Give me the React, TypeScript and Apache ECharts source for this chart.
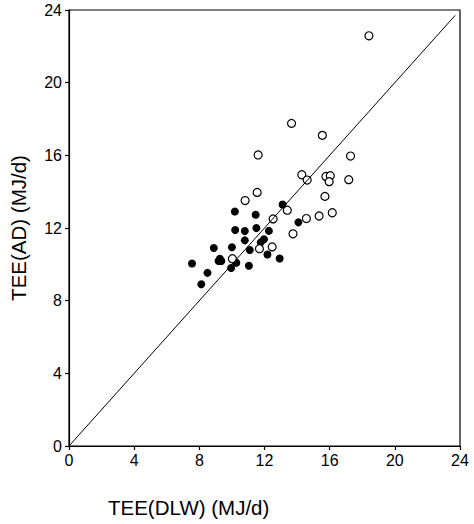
import { useEffect, useRef } from 'react';
import * as echarts from 'echarts';

// TEE by doubly labelled water (x) vs TEE by activity diary (y), MJ/d
const openPoints: [number, number][] = [
  [18.41, 22.58], [13.66, 17.76], [15.55, 17.1], [17.28, 15.96], [11.61, 16.02],
  [14.29, 14.93], [14.62, 14.64], [15.77, 14.84], [16.04, 14.88], [15.97, 14.55],
  [17.17, 14.66], [15.71, 13.74], [11.55, 13.96], [10.81, 13.51], [13.4, 12.98],
  [14.57, 12.52], [15.35, 12.66], [16.16, 12.84], [12.53, 12.5], [13.75, 11.68],
  [11.69, 10.86], [12.47, 10.96], [10.03, 10.31],
];

const filledPoints: [number, number][] = [
  [7.55, 10.05], [8.12, 8.9], [8.5, 9.53], [8.89, 10.9], [9.26, 10.31],
  [9.18, 10.18], [9.35, 10.18], [9.95, 9.8], [10.18, 12.91], [10.2, 11.89],
  [10.0, 10.94], [10.79, 11.83], [10.79, 11.32], [11.1, 10.79], [11.04, 9.92],
  [10.27, 10.09], [11.46, 12.73], [11.5, 12.0], [11.77, 11.21], [11.97, 11.38],
  [12.27, 11.84], [12.18, 10.54], [12.93, 10.32], [13.11, 13.29], [14.08, 12.31],
];

const identityLine: [number, number][] = [[0, 0], [23.7, 23.7]];

const axisMin = 0;
const axisMax = 24;
const axisStep = 4;

const FONT = '"Liberation Sans", Arial, sans-serif';

export default function App() {
  const chartRef = useRef<HTMLDivElement>(null);

  useEffect(() => {
    document.body.style.margin = '0';
    if (!chartRef.current) return;
    const chart = echarts.init(chartRef.current, null, { renderer: 'svg' });

    const axisCommon = {
      type: 'value' as const,
      min: axisMin,
      max: axisMax,
      interval: axisStep,
      splitLine: { show: false },
      axisLine: { lineStyle: { color: '#000', width: 1.2 } },
      axisTick: { length: 4, lineStyle: { color: '#000', width: 1.2 } },
      axisLabel: { color: '#000', fontSize: 16, fontFamily: FONT },
    };

    chart.setOption({
      animation: false,
      backgroundColor: '#fff',
      grid: {
        left: 66,
        right: 14,
        top: 10,
        bottom: 78,
        show: true,
        borderColor: '#000',
        borderWidth: 1.2,
        backgroundColor: 'transparent',
      },
      xAxis: {
        ...axisCommon,
        axisLabel: { ...axisCommon.axisLabel, margin: 6 },
      },
      yAxis: {
        ...axisCommon,
        axisLabel: { ...axisCommon.axisLabel, margin: 7 },
        name: 'TEE(AD) (MJ/d)',
        nameLocation: 'middle',
        nameGap: 40,
        nameTextStyle: { color: '#000', fontSize: 20.5, fontFamily: FONT },
      },
      graphic: [
        {
          type: 'text',
          left: 108,
          top: 497,
          style: {
            text: 'TEE(DLW) (MJ/d)',
            fill: '#000',
            font: `20.5px ${FONT}`,
          },
        },
      ],
      series: [
        {
          type: 'line',
          data: identityLine,
          symbol: 'none',
          lineStyle: { color: '#000', width: 1 },
          silent: true,
        },
        {
          type: 'scatter',
          data: filledPoints,
          symbol: 'circle',
          symbolSize: 8,
          itemStyle: { color: '#000', opacity: 1 },
        },
        {
          type: 'scatter',
          data: openPoints,
          symbol: 'circle',
          symbolSize: 8,
          itemStyle: { color: '#fff', borderColor: '#000', borderWidth: 1.2, opacity: 1 },
        },
      ],
    });

    return () => {
      chart.dispose();
    };
  }, []);

  return <div ref={chartRef} style={{ width: 474, height: 524 }} />;
}
